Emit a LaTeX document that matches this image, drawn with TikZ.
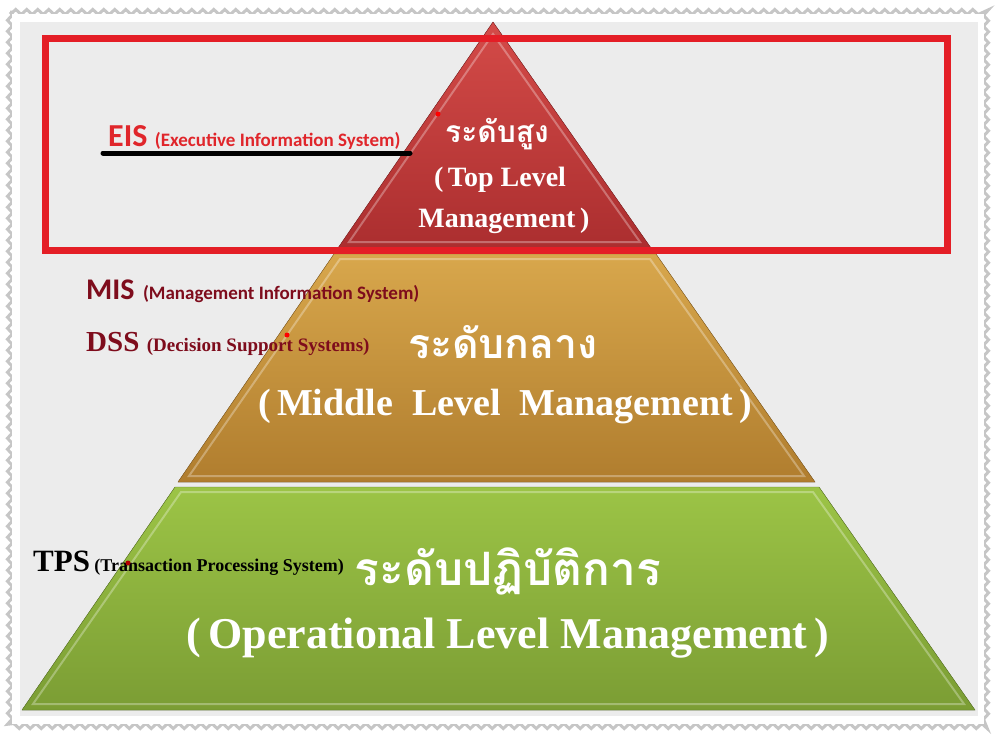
\documentclass[tikz,border=0pt]{standalone}
\usepackage{fontspec}
\setmainfont{Liberation Serif}
\newfontfamily\thaifont[Script=Thai]{Loma}
\newfontfamily\calfont{Carlito}
\usetikzlibrary{positioning,decorations.pathmorphing}

\definecolor{paper}{HTML}{ECECEC}
\definecolor{boxred}{HTML}{E41E26}
\definecolor{eisred}{HTML}{E0262B}
\definecolor{misred}{HTML}{7E0C1C}
\definecolor{topA}{HTML}{D44B48}
\definecolor{topB}{HTML}{AB2E2F}
\definecolor{midA}{HTML}{D8A74C}
\definecolor{midB}{HTML}{B07D2E}
\definecolor{lowA}{HTML}{9CC446}
\definecolor{lowB}{HTML}{7B9D34}

\tikzset{
  lvlthai/.style={text=white, inner sep=0pt, anchor=base, font=\thaifont\bfseries\fontsize{#1}{#1}\selectfont},
  lvleng/.style={text=white, inner sep=0pt, anchor=base, font=\bfseries\fontsize{#1}{#1}\selectfont},
  sysshort/.style={inner sep=0pt, anchor=base west},
  syslong/.style={inner sep=0pt, anchor=base west},
  bevel/.style={draw=white, draw opacity=.3, line width=2pt},
}

\begin{document}
\begin{tikzpicture}[x=1pt,y=-1pt]
\useasboundingbox (0,0) rectangle (996,737);
% stamp frame
\fill[white] (0,0) rectangle (996,737);
\draw[gray!45, line width=3pt, decorate, decoration={zigzag, segment length=11pt, amplitude=2.5pt}] (10,12) rectangle (986,726);
\fill[white] (12,14) rectangle (984,724);
\fill[paper] (20,22) rectangle (978,716);

% pyramid tiers
\fill[top color=topA, bottom color=topB, draw=topB!80!black] (493,22) -- (651,248) -- (338,248) -- cycle;
\draw[bevel] (493,34) -- (640,242) -- (349,242) -- cycle;
\fill[top color=midA, bottom color=midB, draw=midB!80!black] (334,254) -- (656,254) -- (815,482) -- (178,482) -- cycle;
\draw[bevel] (340,259) -- (650,259) -- (804,476) -- (189,476) -- cycle;
\fill[top color=lowA, bottom color=lowB, draw=lowB!80!black] (175,487) -- (819,487) -- (975,710) -- (22,710) -- cycle;
\draw[bevel] (181,492) -- (813,492) -- (964,704) -- (33,704) -- cycle;

% tier labels
\node[lvlthai=30] (topthai) at (497,142) {ระดับสูง};
\node[lvleng=28] (topeng) at (500,186) {(\,Top Level};
\node[lvleng=28] (topmgmt) at (504,227) {Management\,)};
\node[lvlthai=41] (midthai) at (503,358) {ระดับกลาง};
\node[lvleng=38] (mideng) at (505,415) {(\,Middle\ \ Level\ \ Management\,)};
\node[lvlthai=46] (lowthai) at (508,585) {ระดับปฏิบัติการ};
\node[lvleng=44] (loweng) at (508,648) {(\,Operational\ Level\ Management\,)};

% information systems
\node[sysshort, text=eisred, font=\calfont\bfseries\fontsize{32}{32}\selectfont] (eis) at (108,146) {EIS};
\node[syslong, text=eisred, font=\calfont\bfseries\fontsize{19}{19}\selectfont, right=7pt of eis.base east, anchor=base west] (eisname) {(Executive Information System)};
\coordinate (eisA) at (103,153);
\coordinate (eisB) at (410,153);
\draw[line width=5pt, line cap=round] (eisA) -- (eisB);

\node[sysshort, text=misred, font=\calfont\bfseries\fontsize{30}{30}\selectfont] (mis) at (86,299) {MIS};
\node[syslong, text=misred, font=\calfont\bfseries\fontsize{19}{19}\selectfont, right=8pt of mis.base east, anchor=base west] (misname) {(Management Information System)};

\node[sysshort, text=misred, font=\bfseries\fontsize{29}{29}\selectfont] (dss) at (86,351) {DSS};
\node[syslong, text=misred, font=\bfseries\fontsize{19}{19}\selectfont, right=7pt of dss.base east, anchor=base west] (dssname) {(Decision Support Systems)};

\node[sysshort, font=\bfseries\fontsize{31}{31}\selectfont] (tps) at (33,571) {TPS};
\node[syslong, font=\bfseries\fontsize{18}{18}\selectfont, right=4pt of tps.base east, anchor=base west] (tpsname) {(Transaction Processing System)};

% top level frame
\draw[boxred, line width=7pt] (45,38) rectangle (947,250);
\fill[red] (438,114) circle (2.5);
\fill[red] (287,335) circle (2.5);
\fill[red!70!black] (128,563) circle (2.5);
\end{tikzpicture}
\end{document}
